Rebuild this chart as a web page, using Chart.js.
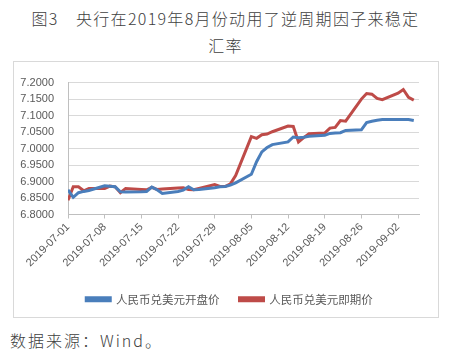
<!DOCTYPE html>
<html>
<head>
<meta charset="utf-8">
<script src="https://cdn.jsdelivr.net/npm/chart.js@4.4.1/dist/chart.umd.min.js"></script>
<style>
  body { margin: 0; width: 451px; height: 355px; background: #fff; position: relative; overflow: hidden;
         font-family: "Noto Sans CJK SC", "Noto Sans", sans-serif; }
  #title { position: absolute; left: 0; top: 5px; width: 451px; text-align: center; font-size: 16px;
           line-height: 27px; letter-spacing: 1.3px; color: #404040; font-weight: 300; }
  #frame { position: absolute; left: 13px; top: 61px; width: 424px; height: 255px; border: 1px solid #d9d9d9; }
  #wrap { position: absolute; left: 14px; top: 62px; width: 423px; height: 254px; }
  #source { position: absolute; left: 10px; top: 328px; font-size: 16px; letter-spacing: 2px; color: #404040; font-weight: 300; }
</style>
</head>
<body>
<div id="title">图3　央行在2019年8月份动用了逆周期因子来稳定<br>汇率</div>
<div id="frame"></div>
<div id="wrap"><canvas id="fxChart" width="423" height="254"></canvas></div>
<div id="source">数据来源：Wind。</div>
<script>
// trading days shown in the chart
var dates = [
    '2019-07-01', '2019-07-02', '2019-07-03', '2019-07-04', '2019-07-05',
    '2019-07-08', '2019-07-09', '2019-07-10', '2019-07-11', '2019-07-12',
    '2019-07-15', '2019-07-16', '2019-07-17', '2019-07-18', '2019-07-19',
    '2019-07-22', '2019-07-23', '2019-07-24', '2019-07-25', '2019-07-26',
    '2019-07-29', '2019-07-30', '2019-07-31', '2019-08-01', '2019-08-02',
    '2019-08-05', '2019-08-06', '2019-08-07', '2019-08-08', '2019-08-09',
    '2019-08-12', '2019-08-13', '2019-08-14', '2019-08-15', '2019-08-16',
    '2019-08-19', '2019-08-20', '2019-08-21', '2019-08-22', '2019-08-23',
    '2019-08-26', '2019-08-27', '2019-08-28', '2019-08-29', '2019-08-30',
    '2019-09-02', '2019-09-03', '2019-09-04', '2019-09-05'
];

// 人民币兑美元开盘价
var openPrice = [
    6.875, 6.852, 6.866, 6.870, 6.873,
    6.887, 6.886, 6.884, 6.869, 6.868,
    6.869, 6.870, 6.883, 6.875, 6.864,
    6.870, 6.874, 6.884, 6.875, 6.876,
    6.881, 6.884, 6.885, 6.889, 6.896,
    6.922, 6.960, 6.990, 7.003, 7.012,
    7.020, 7.035, 7.033, 7.034, 7.037,
    7.040, 7.046, 7.047, 7.048, 7.055,
    7.057, 7.079, 7.083, 7.086, 7.088,
    7.088, 7.088, 7.088, 7.085
];

// 人民币兑美元即期价
var spotPrice = [
    6.843, 6.884, 6.884, 6.872, 6.879,
    6.879, 6.886, 6.884, 6.866, 6.879,
    6.876, 6.875, 6.882, 6.876, 6.877,
    6.880, 6.881, 6.876, 6.875, 6.879,
    6.891, 6.885, 6.885, 6.893, 6.918,
    7.036, 7.031, 7.042, 7.044, 7.051,
    7.068, 7.067, 7.020, 7.033, 7.045,
    7.047, 7.062, 7.064, 7.085, 7.083,
    7.150, 7.167, 7.165, 7.152, 7.148,
    7.168, 7.179, 7.155, 7.147
];

var xTickLabels = [
    '2019-07-01', '2019-07-08', '2019-07-15', '2019-07-22', '2019-07-29',
    '2019-08-05', '2019-08-12', '2019-08-19', '2019-08-26', '2019-09-02'
];
var xAxisEnd = '2019-09-06';

var seriesNames = ['人民币兑美元开盘价', '人民币兑美元即期价'];

function dayIndex(d) {
    return Math.round((Date.parse(d) - Date.parse(dates[0])) / 86400000);
}

function toPoints(values) {
    return values.map(function(v, i) {
        return { x: dayIndex(dates[i]), y: v };
    });
}

// nudge the legend right so it sits where the original one does
var legendShift = {
    id: 'legendShift',
    afterLayout: function(chart) {
        if (chart.legend) {
            chart.legend.left += 13;
            chart.legend.right += 13;
        }
    }
};

var tickFont = { family: '"Liberation Sans", Arial, sans-serif', size: 11 };

var ctx = document.getElementById('fxChart').getContext('2d');
var fxChart = new Chart(ctx, {
    type: 'line',
    data: {
        datasets: [{
            label: seriesNames[0],
            data: toPoints(openPrice),
            borderColor: '#4a7ebb',
            backgroundColor: '#4a7ebb',
            borderWidth: 3,
            pointRadius: 0,
            tension: 0
        }, {
            label: seriesNames[1],
            data: toPoints(spotPrice),
            borderColor: '#be4b48',
            backgroundColor: '#be4b48',
            borderWidth: 3,
            pointRadius: 0,
            tension: 0
        }]
    },
    plugins: [legendShift],
    options: {
        responsive: false,
        animation: false,
        devicePixelRatio: 1,
        layout: { padding: { left: 0, right: 18, top: 12, bottom: 1 } },
        plugins: {
            tooltip: { enabled: false },
            legend: {
                position: 'bottom',
                labels: {
                    boxWidth: 24,
                    boxHeight: 3,
                    padding: 20,
                    color: '#595959',
                    font: { family: '"Noto Sans CJK SC", sans-serif', size: 11.5 }
                }
            }
        },
        scales: {
            x: {
                type: 'linear',
                min: 0,
                max: dayIndex(xAxisEnd),
                afterBuildTicks: function(scale) {
                    scale.ticks = xTickLabels.map(function(t) { return { value: dayIndex(t) }; });
                },
                afterFit: function(scale) { scale.height = 59; },
                ticks: {
                    autoSkip: false,
                    minRotation: 45,
                    maxRotation: 45,
                    padding: 2,
                    color: '#595959',
                    font: tickFont,
                    callback: function(value) {
                        var i = xTickLabels.map(dayIndex).indexOf(value);
                        return i >= 0 ? xTickLabels[i] : '';
                    }
                },
                grid: { drawOnChartArea: false, drawTicks: true, tickLength: 4, color: '#bfbfbf' },
                border: { display: true, color: '#bfbfbf' }
            },
            y: {
                min: 6.8,
                max: 7.2,
                afterFit: function(scale) { scale.width = 54; },
                ticks: {
                    stepSize: 0.05,
                    padding: 14,
                    color: '#595959',
                    font: tickFont,
                    callback: function(value) { return value.toFixed(4); }
                },
                grid: { color: '#d9d9d9', drawTicks: false },
                border: { display: true, color: '#bfbfbf' }
            }
        }
    }
});
</script>
</body>
</html>
